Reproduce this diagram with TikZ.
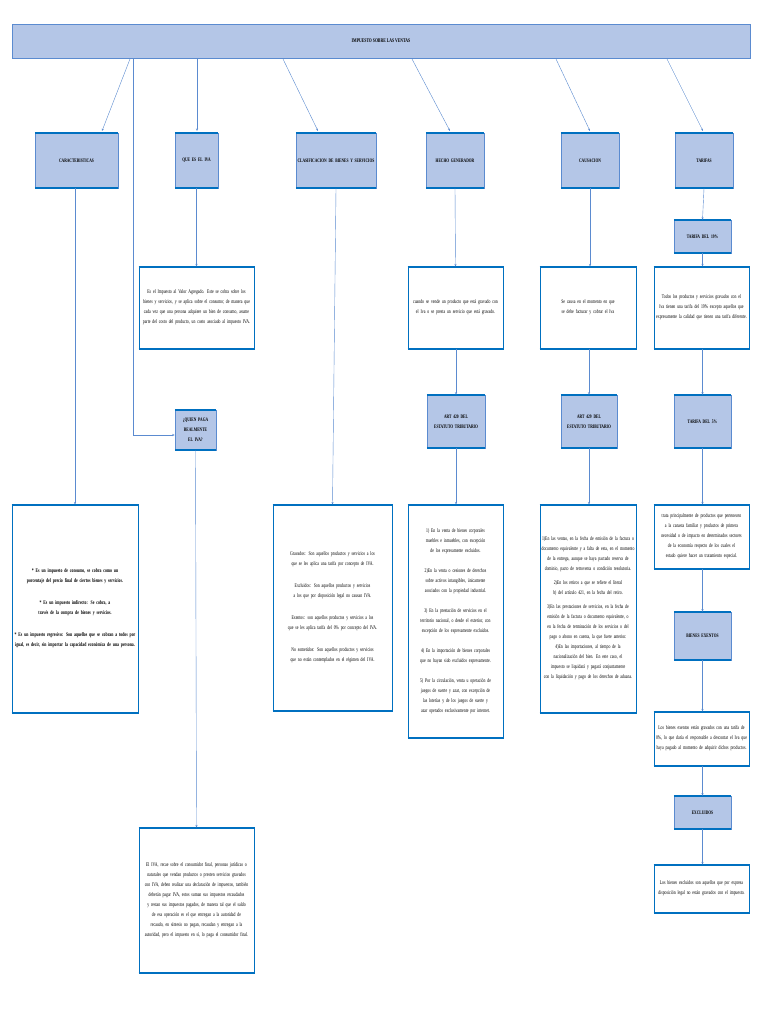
\documentclass[tikz,border=0pt]{standalone}
\usepackage{fontspec}
\setmainfont{Liberation Serif}[FakeStretch=0.68]
\usetikzlibrary{arrows.meta}
\definecolor{lb}{HTML}{B4C6E7}
\definecolor{db}{HTML}{0070C0}
\definecolor{ln}{HTML}{5B8BD0}
\tikzset{
 hdr/.style={fill=lb,draw=ln,line width=0.5pt,inner sep=1pt,align=center,font=\fontsize{5.3}{10}\selectfont\bfseries},
 txt/.style={fill=white,draw=db,line width=1pt,inner sep=1.5pt,align=center,font=\fontsize{5.6}{10}\selectfont},
 con/.style={draw=ln,line width=0.4pt,-{Stealth[length=2.5pt,width=2pt]}},
 bar/.style={draw=db,line width=2pt},
}
\hyphenpenalty=10000 \exhyphenpenalty=10000
\newcommand\bx[7]{% style, name, x1,y1,x2,y2, text
 \node[#1,minimum width=#5pt-#3pt,minimum height=#6pt-#4pt,text width=#5pt-#3pt-3pt] (#2) at ({(#3+#5)/2},{(#4+#6)/2}) {#7};
 \draw[bar] (#2.north west)--(#2.north east);
 \draw[bar] (#2.south west)--(#2.south east);}
\begin{document}
\hyphenpenalty=10000 \exhyphenpenalty=10000
\begin{tikzpicture}[x=1pt,y=-1pt]
\useasboundingbox[fill=white] (0,0) rectangle (768,1024);
\node[fill=lb,draw=ln,minimum width=738pt,minimum height=34pt,font=\fontsize{5.6}{6}\selectfont\bfseries] (T) at (381,41) {IMPUESTO SOBRE LAS VENTAS};
\bx{hdr}{car}{35}{133}{118}{188}{CARACTERISTICAS}
\bx{hdr}{que}{175}{133}{218}{188}{QUE ES EL IVA}
\bx{hdr}{cla}{296}{133}{376}{188}{CLASIFICACION DE BIENES Y SERVICIOS}
\bx{hdr}{hec}{426}{133}{484}{188}{HECHO GENERADOR}
\bx{hdr}{cau}{561}{133}{619}{188}{CAUSACION}
\bx{hdr}{tar}{675}{133}{733}{188}{TARIFAS}
\bx{txt}{qued}{139}{267}{254}{348}{Es el Impuesto al Valor Agregado. Este se cobra sobre los bienes y servicios, y se aplica sobre el consumo; de manera que cada vez que una persona adquiere un bien de consumo, asume parte del costo del producto, un costo asociado al impuesto IVA.}
\bx{hdr}{qui}{175}{410}{216}{450}{¿QUIEN PAGA REALMENTE EL IVA?}
\bx{txt}{hecd}{408}{267}{503}{348}{cuando se vende un producto que está gravado con el Iva o se presta un servicio que está gravado.}
\bx{hdr}{arth}{427}{395}{485}{448}{ART 420 DEL ESTATUTO TRIBUTARIO}
\bx{txt}{caud}{540}{267}{636}{348}{Se causa en el momento en que se debe facturar y cobrar el Iva}
\bx{hdr}{artc}{561}{395}{617}{448}{ART 429 DEL ESTATUTO TRIBUTARIO}
\bx{hdr}{t19}{674}{220}{731}{253}{TARIFA DEL 19\%}
\bx{txt}{t19d}{654}{267}{749}{348}{Todos los productos y servicios gravados con el Iva tienen una tarifa del 19\% excepto aquellos que expresamente la calidad que tienen una tarifa diferente.}
\bx{hdr}{t5}{674}{395}{731}{448}{TARIFA DEL 5\%}
\bx{txt}{card}{12}{505}{138}{712}{\bfseries * Es un impuesto de consumo, se cobra como un porcentaje del precio final de ciertos bienes y servicios.\\[12pt] * Es un impuesto indirecto: Se cobra, a través de la compra de bienes y servicios.\\[12pt] * Es un impuesto regresivo: Son aquellos que se cobran a todos por igual, es decir, sin importar la capacidad económica de una persona.\\[60pt]}
\bx{txt}{clad}{273}{505}{392}{710}{Gravados: Son aquellos productos y servicios a los que se les aplica una tarifa por concepto de IVA.\\[12pt] Excluidos: Son aquellos productos y servicios a los que por disposición legal no causan IVA.\\[12pt] Exentos: son aquellos productos y servicios a los que se les aplica tarifa del 0\% por concepto del IVA.\\[12pt] No sometidos: Son aquellos productos y servicios que no están contemplados en el régimen del IVA.\\[30pt]}
\bx{txt}{hegd}{408}{505}{503}{737}{1) En la venta de bienes corporales muebles e inmuebles, con excepción de los expresamente excluidos.\\[10pt] 2)En la venta o cesiones de derechos sobre activos intangibles, únicamente asociados con la propiedad industrial.\\[10pt] 3) En la prestación de servicios en el territorio nacional, o desde el exterior, con excepción de los expresamente excluidos.\\[10pt] 4) En la importación de bienes corporales que no hayan sido excluidos expresamente.\\[10pt] 5) Por la circulación, venta u operación de juegos de suerte y azar, con excepción de las loterías y de los juegos de suerte y azar operados exclusivamente por internet.}
\bx{txt}{caad}{540}{505}{636}{712}{1)En las ventas, en la fecha de emisión de la factura o documento equivalente y a falta de esta, en el momento de la entrega, aunque se haya pactado reserva de dominio, pacto de retroventa o condición resolutoria.\\[4pt] 2)En los retiros a que se refiere el literal b) del artículo 421, en la fecha del retiro.\\[4pt] 3)En las prestaciones de servicios, en la fecha de emisión de la factura o documento equivalente, o en la fecha de terminación de los servicios o del pago o abono en cuenta, la que fuere anterior.\\ 4)En las importaciones, al tiempo de la nacionalización del bien. En este caso, el impuesto se liquidará y pagará conjuntamente con la liquidación y pago de los derechos de aduana.}
\bx{txt}{t5d}{654}{505}{749}{568}{trata principalmente de productos que pertenecen a la canasta familiar y productos de primera necesidad o de impacto en determinados sectores de la economía respecto de los cuales el estado quiere hacer un tratamiento especial.}
\bx{hdr}{exe}{674}{612}{731}{660}{BIENES EXENTOS}
\bx{txt}{exed}{654}{712}{749}{765}{Los bienes exentos están gravados con una tarifa de 0\%, lo que daría el responsable a descontar el Iva que haya pagado al momento de adquirir dichos productos.}
\bx{hdr}{exc}{674}{796}{731}{829}{EXCLUIDOS}
\bx{txt}{excd}{654}{865}{749}{912}{Los bienes excluidos son aquellos que por expresa disposición legal no están gravados con el impuesto.}
\bx{txt}{ivad}{139}{828}{254}{972}{El IVA, recae sobre el consumidor final, personas jurídicas o naturales que vendan productos o presten servicios gravados con IVA, deben realizar una declaración de impuestos, también deberán pagar IVA, estos suman sus impuestos recaudados y restan sus impuestos pagados, de manera tal que el saldo de esa operación es el que entregan a la autoridad de recaudo, en síntesis no pagan, recaudan y entregan a la autoridad, pero el impuesto en sí, lo paga el consumidor final.}
% connectors
\coordinate (a1) at (130,59); \coordinate (b1) at (102,131);
\coordinate (a2) at (197,59); \coordinate (b2) at (197,131);
\coordinate (a3) at (283,59); \coordinate (b3) at (318,131);
\coordinate (a4) at (412,59); \coordinate (b4) at (450,131);
\coordinate (a5) at (556,59); \coordinate (b5) at (590,131);
\coordinate (a6) at (667,59); \coordinate (b6) at (703,131);
\foreach \i in {1,...,6}{\draw[con] (a\i)--(b\i);}
\coordinate (q0) at (133,59); \coordinate (q1) at (133,435);
\draw[con] (q0)--(q1)--(qui.west|-q1);
\draw[con] (car.south-|card.north) -- (card.north);
\draw[con] (que.south)--(qued.north);
\draw[con] (cla.south)--(clad.north);
\draw[con] (qui.south)--(ivad.north);
\draw[con] (hec.south)--(hecd.north);
\draw[con] (hecd.south-|arth.north)--(arth.north);
\draw[con] (arth.south)--(hegd.north-|arth.south);
\draw[con] (cau.south)--(caud.north-|cau.south);
\draw[con] (caud.south-|artc.north)--(artc.north);
\draw[con] (artc.south)--(caad.north-|artc.south);
\draw[con] (tar.south)--(t19.north);
\draw[con] (t19.south)--(t19d.north-|t19.south);
\draw[con] (t19d.south-|t5.north)--(t5.north);
\draw[con] (t5.south)--(t5d.north-|t5.south);
\draw[con] (t5d.south-|exe.north)--(exe.north);
\draw[con] (exe.south)--(exed.north-|exe.south);
\draw[con] (exed.south-|exc.north)--(exc.north);
\draw[con] (exc.south)--(excd.north-|exc.south);
\end{tikzpicture}
\end{document}
